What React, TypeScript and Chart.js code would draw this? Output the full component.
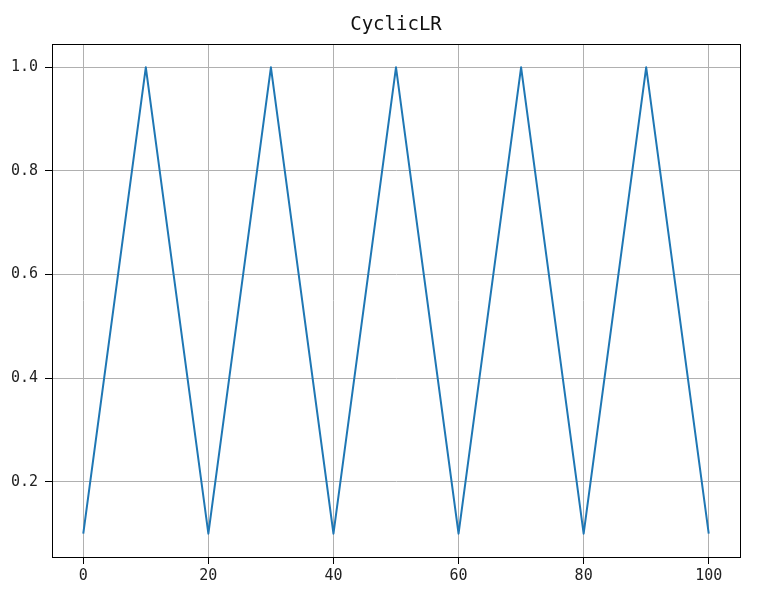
import React, { useEffect, useRef } from "react";
import { Chart, registerables } from "chart.js";

Chart.register(...registerables);

const steps: number[] = [0, 10, 20, 30, 40, 50, 60, 70, 80, 90, 100];
const lrValues: number[] = [0.1, 1.0, 0.1, 1.0, 0.1, 1.0, 0.1, 1.0, 0.1, 1.0, 0.1];
const xTickValues: number[] = [0, 20, 40, 60, 80, 100];
const yTickValues: number[] = [0.2, 0.4, 0.6, 0.8, 1.0];
const chartTitle = "CyclicLR";

const FONT = "'DejaVu Sans Mono', 'Liberation Mono', monospace";

const framePlugin = {
  id: "frame",
  afterDraw(chart: any) {
    const { ctx, chartArea } = chart;
    ctx.save();
    ctx.strokeStyle = "#000";
    ctx.lineWidth = 1;
    ctx.strokeRect(
      Math.round(chartArea.left) + 0.5,
      Math.round(chartArea.top) + 0.5,
      Math.round(chartArea.right - chartArea.left),
      Math.round(chartArea.bottom - chartArea.top)
    );
    ctx.fillStyle = "#111";
    ctx.font = `19px ${FONT}`;
    ctx.textAlign = "center";
    ctx.textBaseline = "alphabetic";
    ctx.fillText(chartTitle, (chartArea.left + chartArea.right) / 2, 30);
    ctx.restore();
  },
};

export default function App() {
  const ref = useRef<HTMLCanvasElement | null>(null);

  useEffect(() => {
    if (!ref.current) return;
    const chart = new Chart(ref.current, {
      type: "line",
      data: {
        datasets: [
          {
            label: "lr",
            data: steps.map((s, i) => ({ x: s, y: lrValues[i] })),
            borderColor: "#1f77b4",
            backgroundColor: "#1f77b4",
            borderWidth: 2,
            borderJoinStyle: "round",
            borderCapStyle: "butt",
            pointRadius: 0,
            tension: 0,
            fill: false,
          },
        ],
      },
      options: {
        responsive: false,
        animation: false,
        devicePixelRatio: 1,
        layout: { padding: { left: 0, right: 28, top: 44, bottom: 0 } },
        plugins: {
          legend: { display: false },
          tooltip: { enabled: false },
          title: { display: false },
        },
        scales: {
          x: {
            type: "linear",
            min: -5,
            max: 105,
            afterBuildTicks: (scale: any) => {
              scale.ticks = xTickValues.map((v) => ({ value: v }));
            },
            afterFit: (scale: any) => {
              scale.height = 40;
            },
            grid: {
              color: "#b0b0b0",
              lineWidth: 1,
              drawTicks: true,
              tickLength: 7,
              tickColor: "#000",
            },
            border: { display: true, color: "#000", width: 1 },
            ticks: {
              color: "#222",
              font: { family: FONT, size: 15 },
              padding: 3,
              maxRotation: 0,
              autoSkip: false,
              callback: (v: any) => String(v),
            },
          },
          y: {
            type: "linear",
            min: 0.055,
            max: 1.045,
            afterBuildTicks: (scale: any) => {
              scale.ticks = yTickValues.map((v) => ({ value: v }));
            },
            afterFit: (scale: any) => {
              scale.width = 52;
            },
            grid: {
              color: "#b0b0b0",
              lineWidth: 1,
              drawTicks: true,
              tickLength: 7,
              tickColor: "#000",
            },
            border: { display: true, color: "#000", width: 1 },
            ticks: {
              color: "#222",
              font: { family: FONT, size: 15 },
              padding: 7,
              autoSkip: false,
              callback: (v: any) => Number(v).toFixed(1),
            },
          },
        },
      },
      plugins: [framePlugin],
    } as any);
    return () => chart.destroy();
  }, []);

  return (
    <div
      style={{
        position: "absolute",
        left: 0,
        top: 0,
        width: 768,
        height: 597,
        background: "#fff",
      }}
    >
      <canvas ref={ref} width={768} height={597} />
    </div>
  );
}
